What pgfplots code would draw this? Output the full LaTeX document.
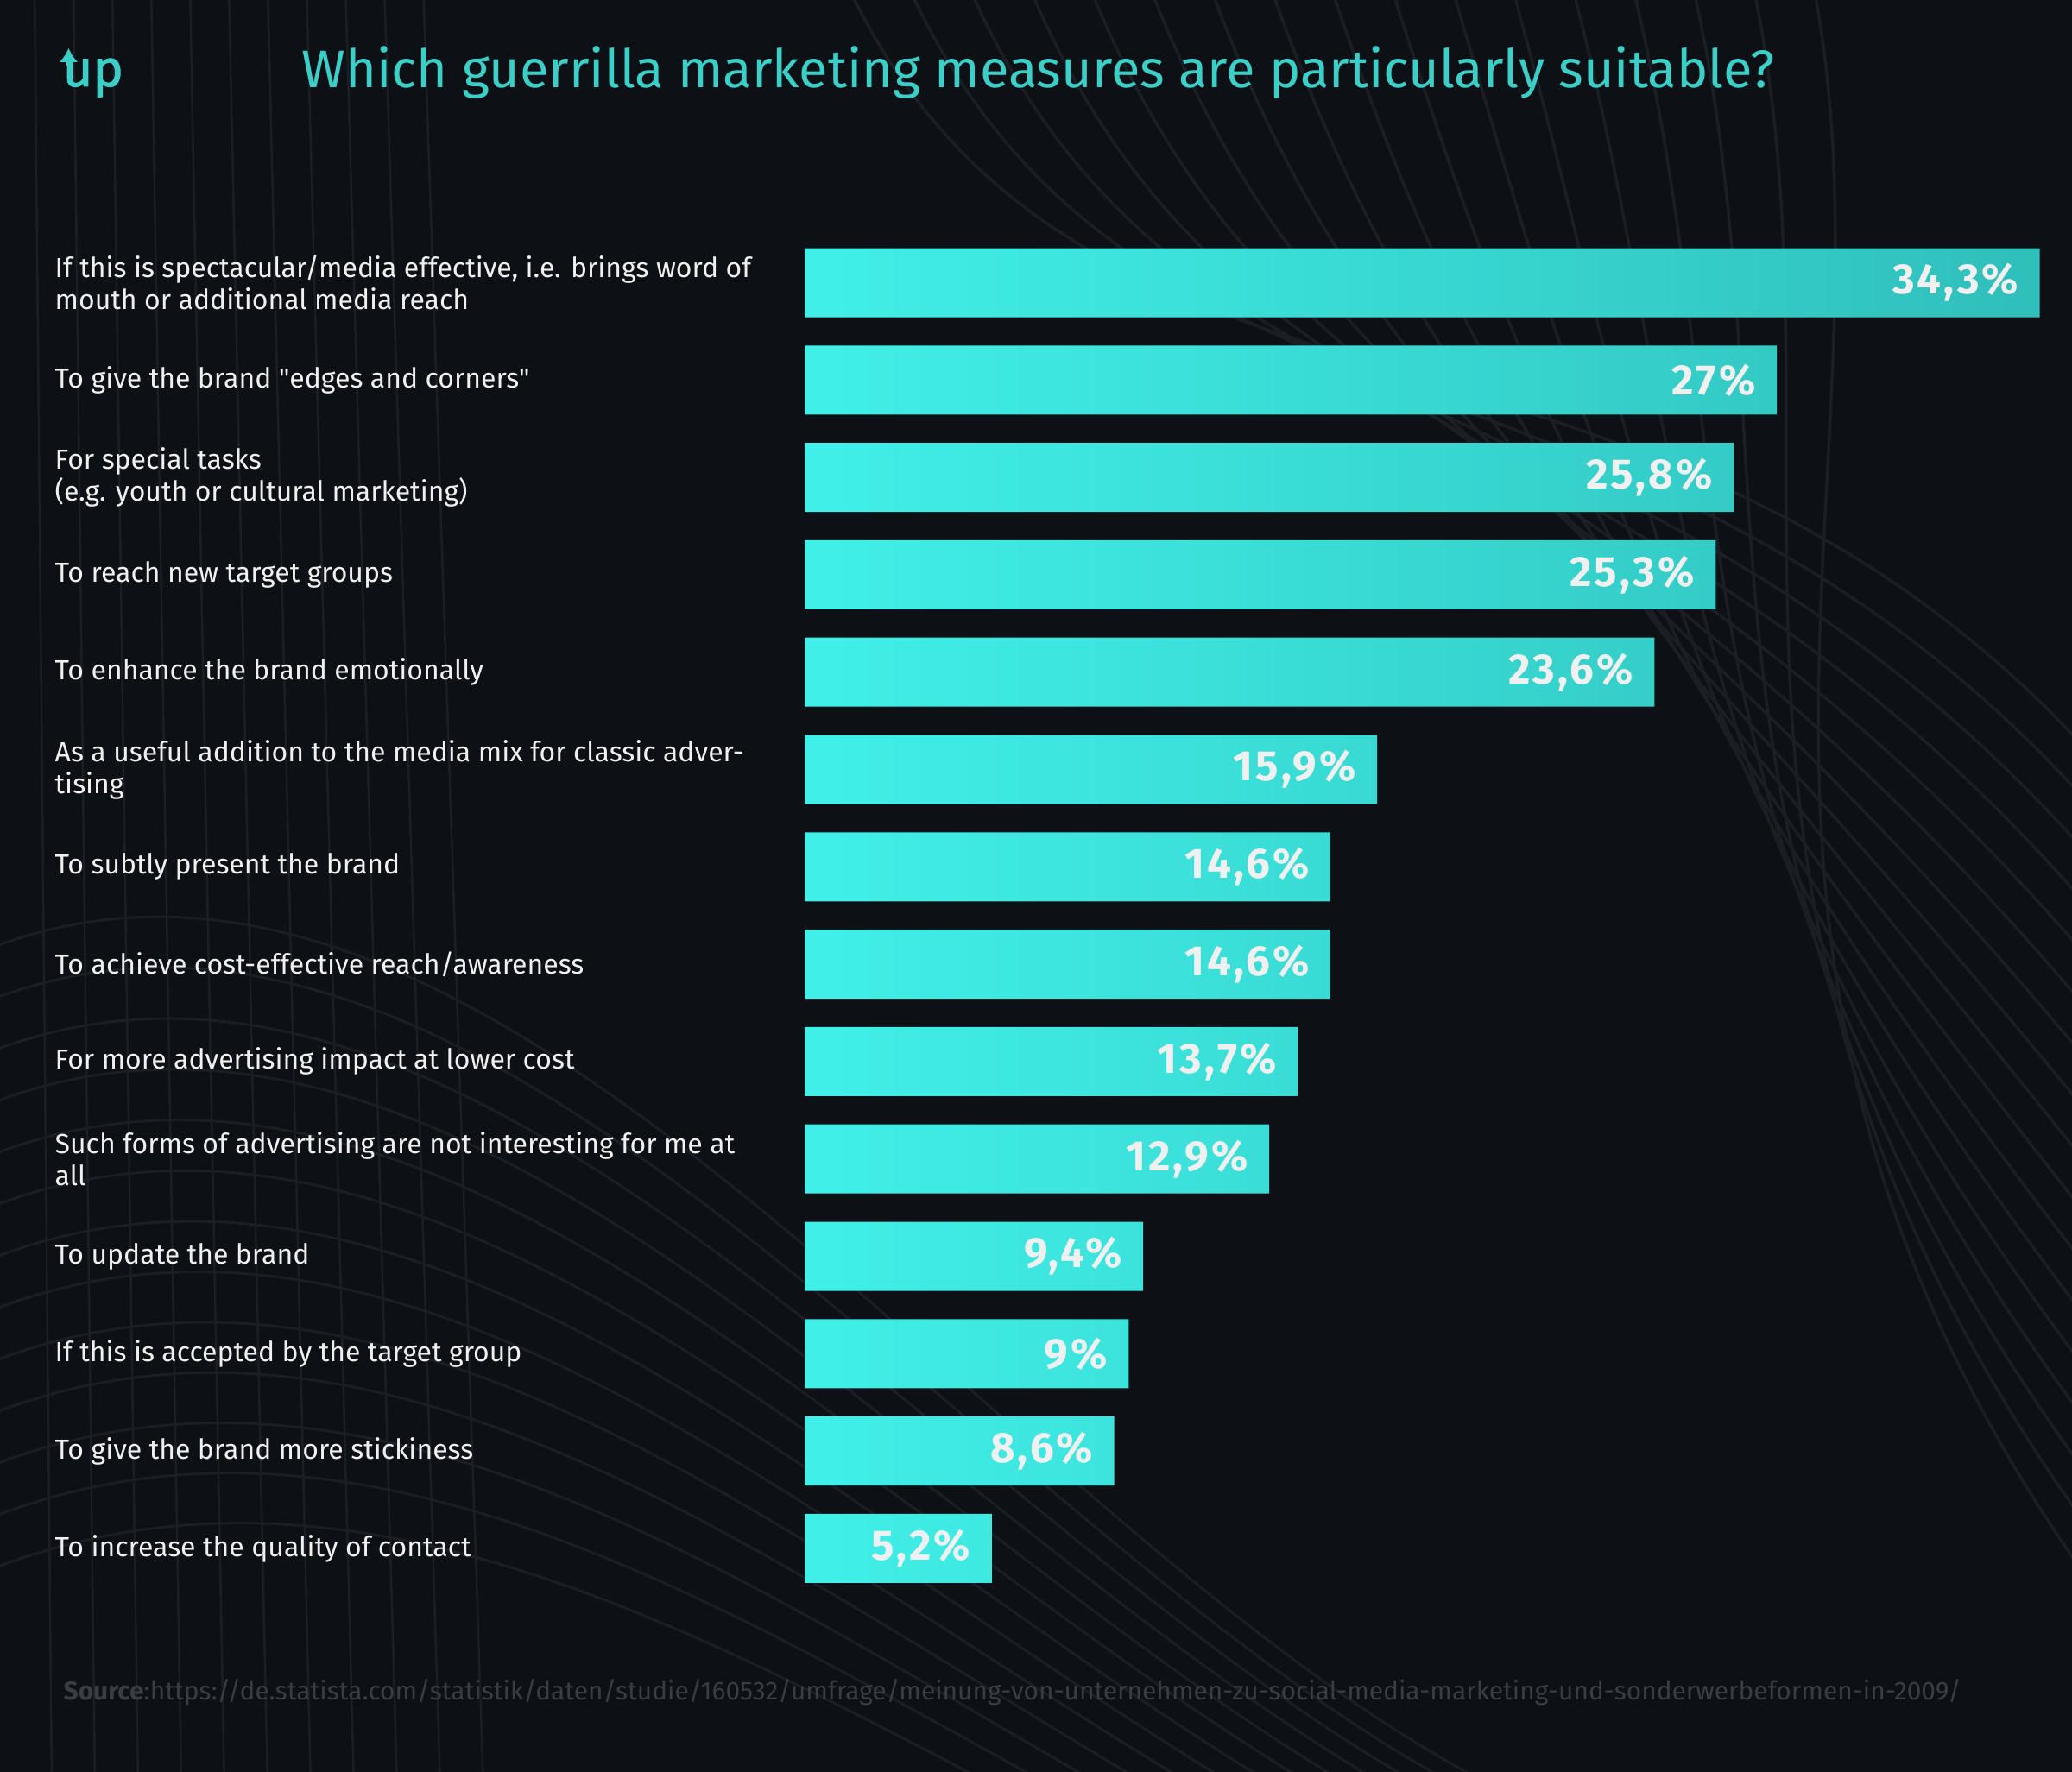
\documentclass[border=0pt]{standalone}
\usepackage{pgfplots}
\pgfplotsset{compat=1.18}
\usepackage{pgfplotstable}
\usetikzlibrary{arrows.meta}
\usepackage{fontspec}
\setmainfont{Fira Sans}[Ligatures=TeXOff]
\definecolor{bg}{HTML}{0D1014}
\definecolor{teal}{HTML}{3BCFC7}
\definecolor{barL}{HTML}{40F0E8}
\definecolor{barR}{HTML}{30BFBA}
\definecolor{lab}{HTML}{F0F0F0}
\definecolor{src}{HTML}{3A3D43}
\definecolor{wave}{HTML}{1B1E24}

\pgfplotstableread{
y x lab
0 34.3 34,3
1 27 27
2 25.8 25,8
3 25.3 25,3
4 23.6 23,6
5 15.9 15,9
6 14.6 14,6
7 14.6 14,6
8 13.7 13,7
9 12.9 12,9
10 9.4 9,4
11 9 9
12 8.6 8,6
13 5.2 5,2
}\datatable

\begin{document}
\begin{tikzpicture}
\useasboundingbox (0,0) rectangle (240mm,205.2mm);
\fill[bg] (-2mm,-2mm) rectangle (242mm,207.2mm);
% decorative background curves
\begin{scope}
\clip (-2mm,-2mm) rectangle (242mm,207.2mm);
\foreach \i in {0,...,16}{
  \draw[wave, line width=0.35mm] ({98mm+\i*7mm},207.2mm) .. controls ({125mm+\i*6mm},150mm) and ({190mm},{175mm-\i*5mm}) .. (242mm,{118mm-\i*6mm});
}
\foreach \i in {0,...,12}{
  \draw[wave, line width=0.3mm] (-2mm,{95mm-\i*6mm}) .. controls (60mm,{120mm-\i*6mm}) and (120mm,{20mm-\i*3mm}) .. (180mm,{-5mm-\i*2mm});
}
\foreach \i in {0,...,10}{
  \draw[wave, line width=0.25mm] ({4mm+\i*4.5mm},207.2mm) -- ({6mm+\i*5mm},-2mm);
}
\end{scope}
% logo
\node[anchor=base west, inner sep=0pt, text=teal, font=\fontsize{17}{20}\selectfont\addfontfeature{FakeBold=1.5}] (logo) at (7.2mm,195.2mm) {up};
\draw[teal, line width=0.5mm, -{Latex[length=1.6mm,width=2.2mm]}] (7.95mm,197.6mm) -- (7.95mm,199.6mm);
% title
\node[anchor=base west, inner sep=0pt, text=teal, font=\fontsize{17.45}{20}\selectfont] at (34.9mm,195.0mm) {Which guerrilla marketing measures are particularly suitable?};
% source
\node[anchor=base west, inner sep=0pt, text=src, font=\fontsize{8.5}{10}\selectfont] at (7.3mm,8.3mm) {\textbf{Source}:https://de.statista.com/statistik/daten/studie/160532/umfrage/meinung-von-unternehmen-zu-social-media-marketing-und-sonderwerbeformen-in-2009/};
\begin{axis}[
  at={(93.2mm,178.09mm)}, anchor=north west,
  x=4.171mm, y=11.28mm,
  xmin=0, xmax=34.3, ymin=-0.5, ymax=13.5,
  y dir=reverse,
  scale only axis,
  axis line style={draw=none},
  major tick length=0pt,
  xtick=\empty,
  ytick={0,...,13},
  yticklabels={
    {If this is spectacular/media effective, i.e. brings word of\\mouth or additional media reach},
    {To give the brand "edges and corners"},
    {For special tasks\\(e.g. youth or cultural marketing)},
    {To reach new target groups},
    {To enhance the brand emotionally},
    {As a useful addition to the media mix for classic adver-\\tising},
    {To subtly present the brand},
    {To achieve cost-effective reach/awareness},
    {For more advertising impact at lower cost},
    {Such forms of advertising are not interesting for me at\\all},
    {To update the brand},
    {If this is accepted by the target group},
    {To give the brand more stickiness},
    {To increase the quality of contact}
  },
  yticklabel style={anchor=west, align=left, inner sep=0pt, xshift=-86.9mm, text=lab, font=\fontsize{9.1}{10.5}\selectfont},
  clip=false,
  xbar, bar width=8mm,
  point meta=explicit symbolic,
  nodes near coords={\pgfplotspointmeta\%},
  nodes near coords style={anchor=east, xshift=-2.4mm, inner sep=0pt, text=lab, font=\fontsize{14}{16}\selectfont\bfseries\addfontfeature{LetterSpace=6}},
]
\addplot[draw=none, left color=barL, right color=barR] table[x=x, y=y, meta=lab] {\datatable};
\end{axis}
\end{tikzpicture}
\end{document}
